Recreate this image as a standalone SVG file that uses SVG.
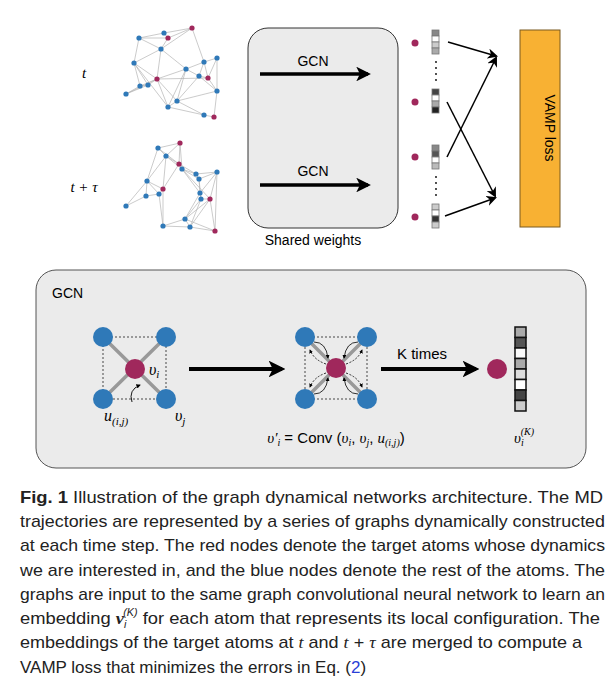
<svg xmlns="http://www.w3.org/2000/svg" width="615" height="689" viewBox="0 0 615 689">
<style>
.t{font-family:"Liberation Sans",Arial,sans-serif;fill:#000}
.m{font-family:"Liberation Serif","Times New Roman",serif;font-style:italic;fill:#000}
.b{fill:#2f79b8}.r{fill:#a0285c}
.e{stroke:#b5b5b5;stroke-width:0.7;fill:none}
.cap{font-family:"Liberation Sans",Arial,sans-serif;font-size:17px;fill:#222}
</style>
<defs>
<marker id="ah" viewBox="0 0 10 10" refX="8" refY="5" markerWidth="7" markerHeight="7" orient="auto"><path d="M0,0 L10,5 L0,10 L3,5z" fill="#000"/></marker>
<marker id="ahs" viewBox="0 0 10 10" refX="8" refY="5" markerWidth="4.2" markerHeight="4.2" orient="auto"><path d="M0,0 L10,5 L0,10 L2.5,5z" fill="#000"/></marker>
<marker id="as" viewBox="0 0 10 10" refX="8" refY="5" markerWidth="5" markerHeight="5" orient="auto"><path d="M0,0 L10,5 L0,10z" fill="#000"/></marker>
</defs>
<rect width="615" height="689" fill="#fff"/>

<g id="graph-t">
<path class="e" d="M139,38L164,33M164,33L192,28M164,33L168,38M192,28L168,38M139,38L161,49M139,38L168,38M168,38L161,49M192,28L161,49M192,28L204,62M161,49L134,63M161,49L186,69M161,49L157,79M139,38L134,63M134,63L140,86M134,63L157,79M134,63L148,85M134,63L168,107M186,69L204,62M186,69L199,76M186,69L157,79M186,69L177,101M186,69L168,107M204,62L217,58M204,62L199,76M204,62L208,78M217,58L208,78M217,58L217,91M199,76L208,78M208,78L217,91M199,76L217,91M157,79L140,86M157,79L148,85M157,79L177,101M157,79L168,107M126,94L140,86M126,94L148,85M126,94L157,79M140,86L148,85M177,101L168,107M177,101L199,76M177,101L204,115M168,107L204,115M217,91L214,117M204,115L214,117M217,91L177,101M157,79L208,78"/>
<g class="b"><circle cx="139" cy="38" r="2.6"/><circle cx="164" cy="33" r="2.6"/><circle cx="161" cy="49" r="2.6"/><circle cx="134" cy="63" r="2.6"/><circle cx="186" cy="69" r="2.6"/><circle cx="204" cy="62" r="2.6"/><circle cx="217" cy="58" r="2.6"/><circle cx="199" cy="76" r="2.6"/><circle cx="217" cy="91" r="2.6"/><circle cx="140" cy="86" r="2.6"/><circle cx="148" cy="85" r="2.6"/><circle cx="126" cy="94" r="2.6"/><circle cx="177" cy="101" r="2.6"/><circle cx="168" cy="107" r="2.6"/><circle cx="204" cy="115" r="2.6"/></g>
<g class="r"><circle cx="192" cy="28" r="2.6"/><circle cx="168" cy="38" r="2.6"/><circle cx="208" cy="78" r="2.6"/><circle cx="157" cy="79" r="2.6"/><circle cx="214" cy="117" r="2.6"/></g>
</g>

<g id="graph-ttau">
<path class="e" d="M180,143L158,148M180,143L166,156M180,143L179,164M158,148L166,156M158,148L179,164M166,156L179,164M166,156L182,169M179,164L182,169M180,143L182,169M166,156L147,181M166,156L163,189M179,164L163,189M182,169L196,174M182,169L199,179M196,174L199,179M196,174L217,172M199,179L217,172M199,179L200,193M217,172L200,193M217,172L210,199M217,172L215,231M182,169L200,193M179,164L196,174M147,181L163,189M147,181L159,194M147,181L146,196M159,194L163,189M159,194L146,196M146,196L126,206M126,206L147,181M163,189L163,226M159,194L163,226M163,226L190,227M163,226L185,219M185,219L190,227M185,219L200,193M185,219L201,199M185,219L210,199M190,227L215,231M190,227L201,199M200,193L201,199M201,199L210,199M210,199L215,231M185,219L215,231M190,227L210,199M199,179L201,199M158,148L147,181M182,169L210,199"/>
<g class="b"><circle cx="158" cy="148" r="2.6"/><circle cx="166" cy="156" r="2.6"/><circle cx="182" cy="169" r="2.6"/><circle cx="196" cy="174" r="2.6"/><circle cx="199" cy="179" r="2.6"/><circle cx="217" cy="172" r="2.6"/><circle cx="147" cy="181" r="2.6"/><circle cx="159" cy="194" r="2.6"/><circle cx="146" cy="196" r="2.6"/><circle cx="126" cy="206" r="2.6"/><circle cx="200" cy="193" r="2.6"/><circle cx="201" cy="199" r="2.6"/><circle cx="185" cy="219" r="2.6"/><circle cx="163" cy="226" r="2.6"/><circle cx="190" cy="227" r="2.6"/></g>
<g class="r"><circle cx="180" cy="143" r="2.6"/><circle cx="179" cy="164" r="2.6"/><circle cx="163" cy="189" r="2.6"/><circle cx="210" cy="199" r="2.6"/><circle cx="215" cy="231" r="2.6"/></g>
</g>

<g id="labels-time">
<text class="m" x="84" y="78" font-size="15" text-anchor="middle">t</text>
<text class="m" x="84" y="192" font-size="15" text-anchor="middle">t + τ</text>
</g>

<g id="shared">
<rect x="248" y="28" width="150" height="200" rx="20" fill="#ebebeb" stroke="#333" stroke-width="1"/>
<text class="t" x="313" y="66" font-size="14" text-anchor="middle">GCN</text>
<text class="t" x="313" y="176" font-size="14" text-anchor="middle">GCN</text>
<text class="t" x="313" y="245" font-size="14" text-anchor="middle">Shared weights</text>
</g>

<g id="embeddings" stroke="#777" stroke-width="0.8">
<g class="r" stroke="none"><circle cx="415" cy="43" r="3.5"/><circle cx="415" cy="102" r="3.5"/><circle cx="415" cy="157" r="3.5"/><circle cx="415" cy="217" r="3.5"/></g>
<rect x="432" y="30" width="7" height="6" fill="#888"/><rect x="432" y="36" width="7" height="6" fill="#fff"/><rect x="432" y="42" width="7" height="6" fill="#ccc"/><rect x="432" y="48" width="7" height="6" fill="#aaa"/>
<rect x="432" y="89" width="7" height="6" fill="#444"/><rect x="432" y="95" width="7" height="6" fill="#fff"/><rect x="432" y="101" width="7" height="6" fill="#aaa"/><rect x="432" y="107" width="7" height="6" fill="#222"/>
<rect x="432" y="145" width="7" height="6" fill="#888"/><rect x="432" y="151" width="7" height="6" fill="#555"/><rect x="432" y="157" width="7" height="6" fill="#fff"/><rect x="432" y="163" width="7" height="6" fill="#bbb"/>
<rect x="432" y="204" width="7" height="6" fill="#ccc"/><rect x="432" y="210" width="7" height="6" fill="#fff"/><rect x="432" y="216" width="7" height="6" fill="#333"/><rect x="432" y="222" width="7" height="6" fill="#ccc"/>
<g fill="#000" stroke="none"><circle cx="436" cy="62" r="0.9"/><circle cx="436" cy="68" r="0.9"/><circle cx="436" cy="74" r="0.9"/><circle cx="436" cy="80" r="0.9"/><circle cx="436" cy="177" r="0.9"/><circle cx="436" cy="183" r="0.9"/><circle cx="436" cy="189" r="0.9"/><circle cx="436" cy="195" r="0.9"/></g>
</g>

<g id="vamp">
<rect x="520" y="30" width="40" height="197" fill="#f8b133" stroke="#7a5a20" stroke-width="1"/>
<text class="t" x="540" y="128" font-size="14" text-anchor="middle" transform="rotate(90 540 128)" dy="-5">VAMP loss</text>
</g>

<g id="gcn-box">
<rect x="36" y="270" width="550" height="198" rx="20" fill="#ebebeb" stroke="#555" stroke-width="1"/>
<text class="t" x="52" y="298" font-size="14">GCN</text>
</g>

<g id="motif1">
<rect x="103" y="337" width="63" height="62" fill="none" stroke="#999" stroke-width="2" stroke-dasharray="2,2"/>
<path d="M103,337L166,399M166,337L103,399" stroke="#999" stroke-width="3.5"/>
<circle class="b" cx="103" cy="337" r="10"/><circle class="b" cx="166" cy="337" r="10"/><circle class="b" cx="103" cy="399" r="10"/><circle class="b" cx="166" cy="399" r="10"/>
<circle class="r" cx="135" cy="369" r="10"/>
<path d="M132,402 Q128,390 140,385" fill="none" stroke="#000" stroke-width="0.9" marker-end="url(#as)"/>
<text class="m" x="149" y="375" font-size="16">υ<tspan font-size="11" dy="3">i</tspan></text>
<text class="m" x="104" y="421" font-size="16">u<tspan font-size="11" dy="4">(i,j)</tspan></text>
<text class="m" x="175" y="421" font-size="16">υ<tspan font-size="11" dy="4">j</tspan></text>
</g>

<g id="motif2">
<rect x="305" y="337" width="62" height="62" fill="none" stroke="#999" stroke-width="2" stroke-dasharray="2,2"/>
<path d="M305,337L367,399M367,337L305,399" stroke="#999" stroke-width="3.5"/>
<g fill="none" stroke="#000" stroke-width="0.8">
<path d="M314,342 Q326,342 328,358" marker-end="url(#as)"/>
<path d="M358,342 Q346,342 344,358" marker-end="url(#as)"/>
<path d="M314,394 Q326,394 328,378" marker-end="url(#as)"/>
<path d="M358,394 Q346,394 344,378" marker-end="url(#as)"/>
<path d="M326,364 Q314,360 310,350" stroke-dasharray="2,1.5" marker-end="url(#as)"/>
<path d="M346,364 Q358,360 362,350" stroke-dasharray="2,1.5" marker-end="url(#as)"/>
<path d="M326,373 Q314,377 310,387" stroke-dasharray="2,1.5" marker-end="url(#as)"/>
<path d="M346,373 Q358,377 362,387" stroke-dasharray="2,1.5" marker-end="url(#as)"/>
</g>
<circle class="b" cx="305" cy="337" r="10"/><circle class="b" cx="367" cy="337" r="10"/><circle class="b" cx="305" cy="399" r="10"/><circle class="b" cx="367" cy="399" r="10"/>
<circle class="r" cx="336" cy="368" r="10"/>
<text x="336" y="443" font-size="15" text-anchor="middle"><tspan class="m">υ′<tspan font-size="10" dy="3">i</tspan></tspan><tspan class="t" dy="-3"> = Conv (</tspan><tspan class="m">υ<tspan font-size="10" dy="3">i</tspan></tspan><tspan class="t" dy="-3">, </tspan><tspan class="m">υ<tspan font-size="10" dy="3">j</tspan></tspan><tspan class="t" dy="-3">, </tspan><tspan class="m">u<tspan font-size="10" dy="3">(i,j)</tspan></tspan><tspan class="t" dy="-3">)</tspan></text>
</g>

<g id="output">
<circle class="r" cx="497" cy="369" r="10"/>
<g stroke="#111" stroke-width="1.5">
<rect x="515" y="327" width="11" height="10.5" fill="#aaa"/><rect x="515" y="337.5" width="11" height="10.5" fill="#555"/><rect x="515" y="348" width="11" height="10.5" fill="#fafafa"/><rect x="515" y="358.5" width="11" height="10.5" fill="#aaa"/><rect x="515" y="369" width="11" height="10.5" fill="#ddd"/><rect x="515" y="379.5" width="11" height="10.5" fill="#fff"/><rect x="515" y="390" width="11" height="10.5" fill="#444"/><rect x="515" y="400.5" width="11" height="10.5" fill="#ccc"/>
</g>
<text class="m" x="514" y="443" font-size="15">υ<tspan font-size="10" dx="0" dy="3">i</tspan><tspan font-size="10" dx="-3" dy="-11">(K)</tspan></text>
</g>

<g id="connectors" stroke="#000" fill="none">
<path d="M260,74H368" stroke-width="3.5" marker-end="url(#ahs)"/>
<path d="M260,185H368" stroke-width="3.5" marker-end="url(#ahs)"/>
<path d="M189,369H282" stroke-width="4" marker-end="url(#ahs)"/>
<path d="M381,369H476" stroke-width="4" marker-end="url(#ahs)"/>
<path d="M448,42L496,56" stroke-width="1.5" marker-end="url(#ah)"/>
<path d="M447,102L495,196" stroke-width="1.5" marker-end="url(#ah)"/>
<path d="M447,157L496,58" stroke-width="1.5" marker-end="url(#ah)"/>
<path d="M445,216L495,198" stroke-width="1.5" marker-end="url(#ah)"/>
</g>
<text class="t" x="422" y="359" font-size="15" text-anchor="middle">K times</text>

<g id="caption" class="cap">
<text x="20" y="503" textLength="583" lengthAdjust="spacingAndGlyphs"><tspan font-weight="bold">Fig. 1</tspan> Illustration of the graph dynamical networks architecture. The MD</text>
<text x="20" y="527" textLength="585" lengthAdjust="spacingAndGlyphs">trajectories are represented by a series of graphs dynamically constructed</text>
<text x="20" y="551" textLength="585" lengthAdjust="spacingAndGlyphs">at each time step. The red nodes denote the target atoms whose dynamics</text>
<text x="20" y="576" textLength="585" lengthAdjust="spacingAndGlyphs">we are interested in, and the blue nodes denote the rest of the atoms. The</text>
<text x="20" y="600" textLength="585" lengthAdjust="spacingAndGlyphs">graphs are input to the same graph convolutional neural network to learn an</text>
<text x="20" y="624" textLength="580" lengthAdjust="spacingAndGlyphs">embedding <tspan font-family="Liberation Serif" font-weight="bold" font-style="italic">v</tspan><tspan font-size="10" font-style="italic" dy="4">i</tspan><tspan font-size="10" font-style="italic" dx="-3" dy="-12">(K)</tspan><tspan dy="8"> for each atom that represents its local configuration. The</tspan></text>
<text x="20" y="648" textLength="562" lengthAdjust="spacingAndGlyphs">embeddings of the target atoms at <tspan font-family="Liberation Serif" font-style="italic">t</tspan> and <tspan font-family="Liberation Serif" font-style="italic">t</tspan> + <tspan font-family="Liberation Serif" font-style="italic">τ</tspan> are merged to compute a</text>
<text x="20" y="673">VAMP loss that minimizes the errors in Eq. (<tspan fill="#2a3fd6">2</tspan>)</text>
</g>
</svg>
